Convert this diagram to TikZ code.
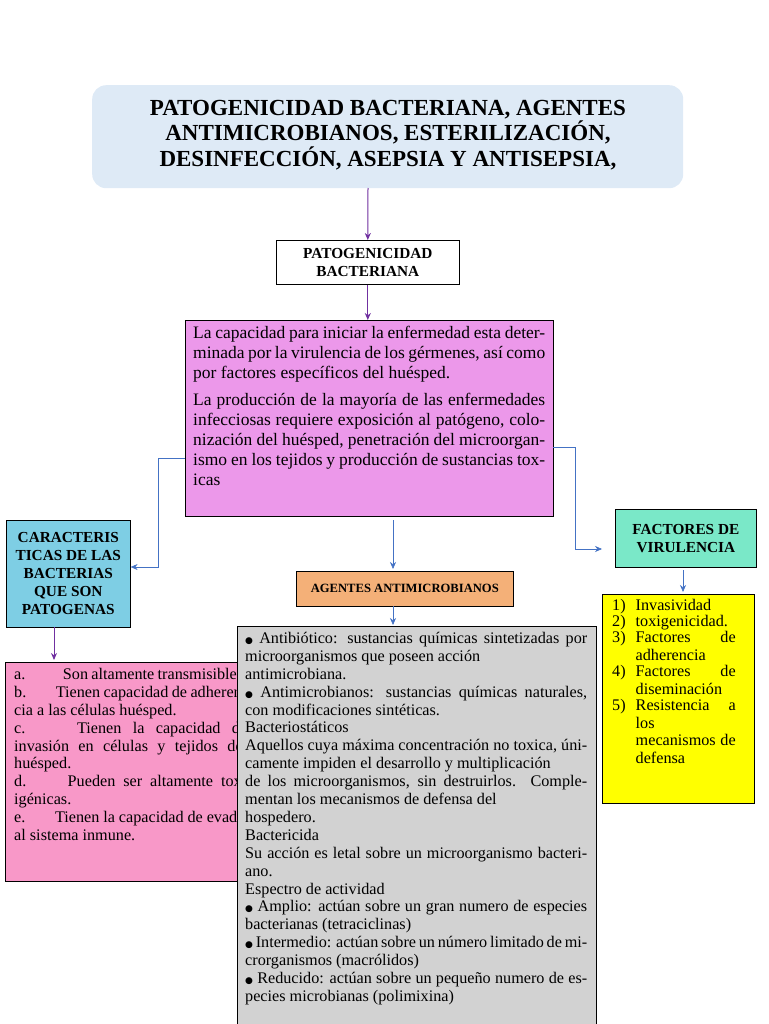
\documentclass[tikz,border=0pt]{standalone}
\usepackage{fontspec}
\setmainfont{Liberation Serif}
\setsansfont{DejaVu Sans}
\usetikzlibrary{arrows.meta}
\definecolor{tblue}{RGB}{222,234,246}
\definecolor{vpink}{RGB}{236,152,234}
\definecolor{cyanb}{RGB}{126,206,228}
\definecolor{mint}{RGB}{122,232,200}
\definecolor{ylw}{RGB}{255,255,0}
\definecolor{orng}{RGB}{244,176,120}
\definecolor{gry}{RGB}{210,210,210}
\definecolor{rpink}{RGB}{248,152,200}
\definecolor{purp}{RGB}{112,48,160}
\definecolor{lblue}{RGB}{68,114,196}
\tikzset{
 box/.style={draw=black,line width=0.6pt,anchor=north west,inner sep=0pt},
 pa/.style={draw=purp,line width=1pt,-{Stealth[length=7pt,width=6pt]}},
 ba/.style={draw=lblue,line width=0.6pt,-{Stealth[length=7pt,width=6pt]}},
}
\newcommand{\bul}{{\sffamily\small ●}}
\begin{document}
\begin{tikzpicture}[x=1pt,y=-1pt]
\useasboundingbox (0,0) rectangle (768,1024);
% title
\node[anchor=north west,fill=tblue,rounded corners=14pt,minimum width=591pt,minimum height=103pt,inner sep=0pt] (t) at (92,85) {};
\node[align=center,font=\bfseries\fontsize{23}{25.5}\selectfont] at (388,135) {PATOGENICIDAD BACTERIANA, AGENTES\\ANTIMICROBIANOS, ESTERILIZACIÓN,\\DESINFECCIÓN, ASEPSIA Y ANTISEPSIA,};
% pat
\node[box,fill=white,minimum width=183pt,minimum height=44pt] (p) at (276,240) {};
\node[align=center,font=\bfseries\fontsize{15.3}{18}\selectfont] at (p.center) {PATOGENICIDAD\\BACTERIANA};
\draw[pa] (368,188) -- (p.north);
% pink main
\node[box,fill=vpink,minimum width=368pt,minimum height=196pt] (m) at (185,320) {};
\draw[pa] (p.south) -- (m.north -| p.south);
\node[anchor=north west,text width=352pt,align=justify,font=\fontsize{17.5}{20.2}\selectfont,inner sep=0pt] at (193,326) {La capacidad para iniciar la enfermedad esta determinada por la virulencia de los gérmenes, así como por factores específicos del huésped.\par\vspace{6pt}La producción de la mayoría de las enfermedades infecciosas requiere exposición al patógeno, colonización del huésped, penetración del microorganismo en los tejidos y producción de sustancias toxicas};
% left blue
\node[box,fill=cyanb,minimum width=124pt,minimum height=107pt] (c) at (6,520) {};
\node[align=center,font=\bfseries\fontsize{15.3}{18}\selectfont] at (c.center) {CARACTERIS\\TICAS DE LAS\\BACTERIAS\\QUE SON\\PATOGENAS};
\draw[ba] (185,458) -- (158,458) -- (158,567) -- (c.east |- 0,567);
% left pink
\node[box,fill=rpink,minimum width=252pt,minimum height=219pt] (l) at (5,662) {};
\draw[pa] (54,627) -- (54,660);
\node[anchor=north west,text width=233pt,align=justify,font=\fontsize{16.2}{17.9}\selectfont,inner sep=0pt] at (14,668) {a.\hspace{2em} Son altamente transmisibles.\par
b.\hspace{1.5em} Tienen capacidad de adherencia a las células huésped.\par
c.\hspace{1.5em} Tienen la capacidad de invasión en células y tejidos del huésped.\par
d.\hspace{1.5em} Pueden ser altamente toxigénicas.\par
e.\hspace{1.5em} Tienen la capacidad de evadir al sistema inmune.};
% agentes
\node[box,fill=orng,minimum width=217pt,minimum height=35pt] (a) at (296,571) {};
\node[font=\bfseries\fontsize{12.6}{14}\selectfont] at (a.center) {AGENTES ANTIMICROBIANOS};
\draw[ba] (393,520) -- (393,569);
% gray
\node[box,fill=gry,minimum width=359pt,minimum height=420pt] (g) at (237,626) {};
\draw[ba] (393,606) -- (393,625);
\node[anchor=north west,text width=342pt,align=justify,font=\fontsize{16.2}{17.9}\selectfont,inner sep=0pt] at (245,632) {\bul\ Antibiótico: sustancias químicas sintetizadas por microorganismos que poseen acción\hfill\break antimicrobiana.\par
\bul\ Antimicrobianos: sustancias químicas naturales, con modificaciones sintéticas.\par
Bacteriostáticos\par
Aquellos cuya máxima concentración no toxica, únicamente impiden el desarrollo y multiplicación\hfill\break de los microorganismos, sin destruirlos. Complementan los mecanismos de defensa del\hfill\break hospedero.\par
Bactericida\par
Su acción es letal sobre un microorganismo bacteriano.\par
Espectro de actividad\par
\bul\ Amplio: actúan sobre un gran numero de especies bacterianas (tetraciclinas)\par
\bul\ Intermedio: actúan sobre un número limitado de microrganismos (macrólidos)\par
\bul\ Reducido: actúan sobre un pequeño numero de especies microbianas (polimixina)};
% factores
\node[box,fill=mint,minimum width=141pt,minimum height=58pt] (f) at (615,509) {};
\node[align=center,font=\bfseries\fontsize{15.3}{18}\selectfont] at (f.center) {FACTORES DE\\VIRULENCIA};
\draw[ba] (553,447) -- (575,447) -- (575,549) -- (602,549);
% yellow
\node[box,fill=ylw,minimum width=152pt,minimum height=209pt] (y) at (602,594) {};
\draw[ba] (683,570) -- (683,592);
\node[anchor=north west,font=\fontsize{16.2}{17.9}\selectfont,inner sep=0pt] at (612,598) {%
\begin{tabular}{@{}l@{\hspace{10pt}}p{100pt}@{}}
1) & Invasividad\\[-2pt]
2) & toxigenicidad.\\[-2pt]
3) & Factores\hfill de adherencia\\[-2pt]
4) & Factores\hfill de diseminación\\[-2pt]
5) & Resistencia\hfill a\break los\break mecanismos de defensa
\end{tabular}};
\end{tikzpicture}
\end{document}
